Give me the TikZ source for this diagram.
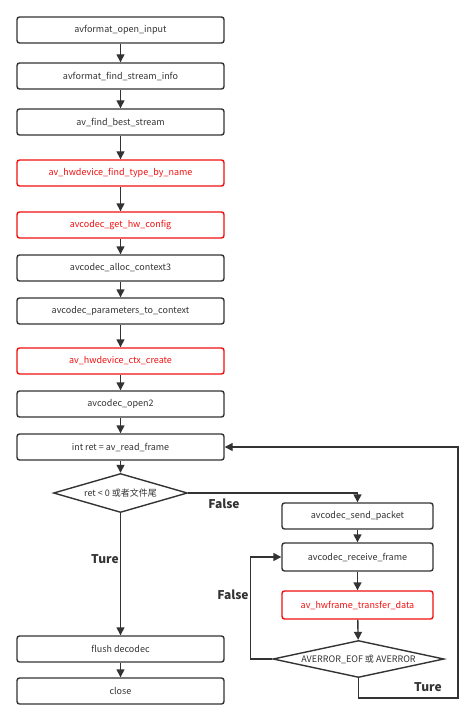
\documentclass[tikz,border=0pt]{standalone}
\usepackage{fontspec}
\setmainfont{Noto Sans CJK SC}
\usetikzlibrary{arrows.meta,shapes.geometric}
\definecolor{ln}{HTML}{333333}
\definecolor{rd}{HTML}{F01010}
\begin{document}
\begin{tikzpicture}[x=1pt,y=-1pt,
  box/.style={draw=ln,line width=1.4pt,rounded corners=2.5pt,minimum width=207pt,minimum height=26pt,inner sep=0pt,font=\fontsize{9}{10}\selectfont,text=ln},
  rbox/.style={box,draw=rd,text=rd},
  sbox/.style={box,minimum width=151pt},
  srbox/.style={rbox,minimum width=151pt},
  dia/.style={draw=ln,line width=1.4pt,diamond,inner sep=0pt},
  arr/.style={draw=ln,line width=1.4pt,-{Triangle[length=8pt,width=8pt]}},
  lbl/.style={font=\fontsize{12}{13}\bfseries,text=ln}]
\useasboundingbox (0,0) rectangle (474,722);
\node[box]  (b1)  at (120.5,30)  {avformat\_open\_input};
\node[box]  (b2)  at (120.5,76)  {avformat\_find\_stream\_info};
\node[box]  (b3)  at (120.5,122) {av\_find\_best\_stream};
\node[rbox] (b4)  at (120.5,173) {av\_hwdevice\_find\_type\_by\_name};
\node[rbox] (b5)  at (120.5,225) {avcodec\_get\_hw\_config};
\node[box]  (b6)  at (120.5,268) {avcodec\_alloc\_context3};
\node[box]  (b7)  at (120.5,311) {avcodec\_parameters\_to\_context};
\node[rbox] (b8)  at (120.5,361) {av\_hwdevice\_ctx\_create};
\node[box]  (b9)  at (120.5,404) {avcodec\_open2};
\node[box]  (b10) at (120.5,447) {int ret = av\_read\_frame};
\node[dia,minimum width=134pt,minimum height=39pt,
  label={[font=\fontsize{9}{10}\selectfont,text=ln]center:ret < 0 或者文件尾}] (d1) at (120.5,493) {};
\node[box]  (fl)  at (120.5,649) {flush decodec};
\node[box]  (cl)  at (120.5,691) {close};
\node[sbox]  (sp) at (357.5,516) {avcodec\_send\_packet};
\node[sbox,minimum height=28pt]  (rf) at (357.5,557) {avcodec\_receive\_frame};
\node[srbox,minimum height=28pt] (tf) at (357.5,605) {av\_hwframe\_transfer\_data};
\node[dia,minimum width=171pt,minimum height=37pt,
  label={[font=\fontsize{9}{10}\selectfont,text=ln]center:AVERROR\_EOF 或 AVERROR}] (d2) at (358.5,659) {};
\coordinate (c1) at (458,698);
\draw[arr] (b1) -- (b2);
\draw[arr] (b2) -- (b3);
\draw[arr] (b3) -- (b4);
\draw[arr] (b4) -- (b5);
\draw[arr] (b5) -- (b6);
\draw[arr] (b6) -- (b7);
\draw[arr] (b7) -- (b8);
\draw[arr] (b8) -- (b9);
\draw[arr] (b9) -- (b10);
\draw[arr] (b10) -- (d1);
\draw[arr] (d1) -- (fl);
\draw[arr] (fl) -- (cl);
\draw[arr] (d1.east) -| (sp.north);
\draw[arr] (sp) -- (rf);
\draw[arr] (rf) -- (tf);
\draw[arr] (tf) -- (d2);
\draw[arr] (d2.west) -- ++(-22,0) |- (rf.west);
\draw[arr] (d2.south) |- (c1) |- (b10.east);
\node[lbl] (l1) at (224,504) {False};
\node[lbl] (l2) at (105,559) {Ture};
\node[lbl] (l3) at (233,595) {False};
\node[lbl] (l4) at (428,687) {Ture};
\end{tikzpicture}
\end{document}
